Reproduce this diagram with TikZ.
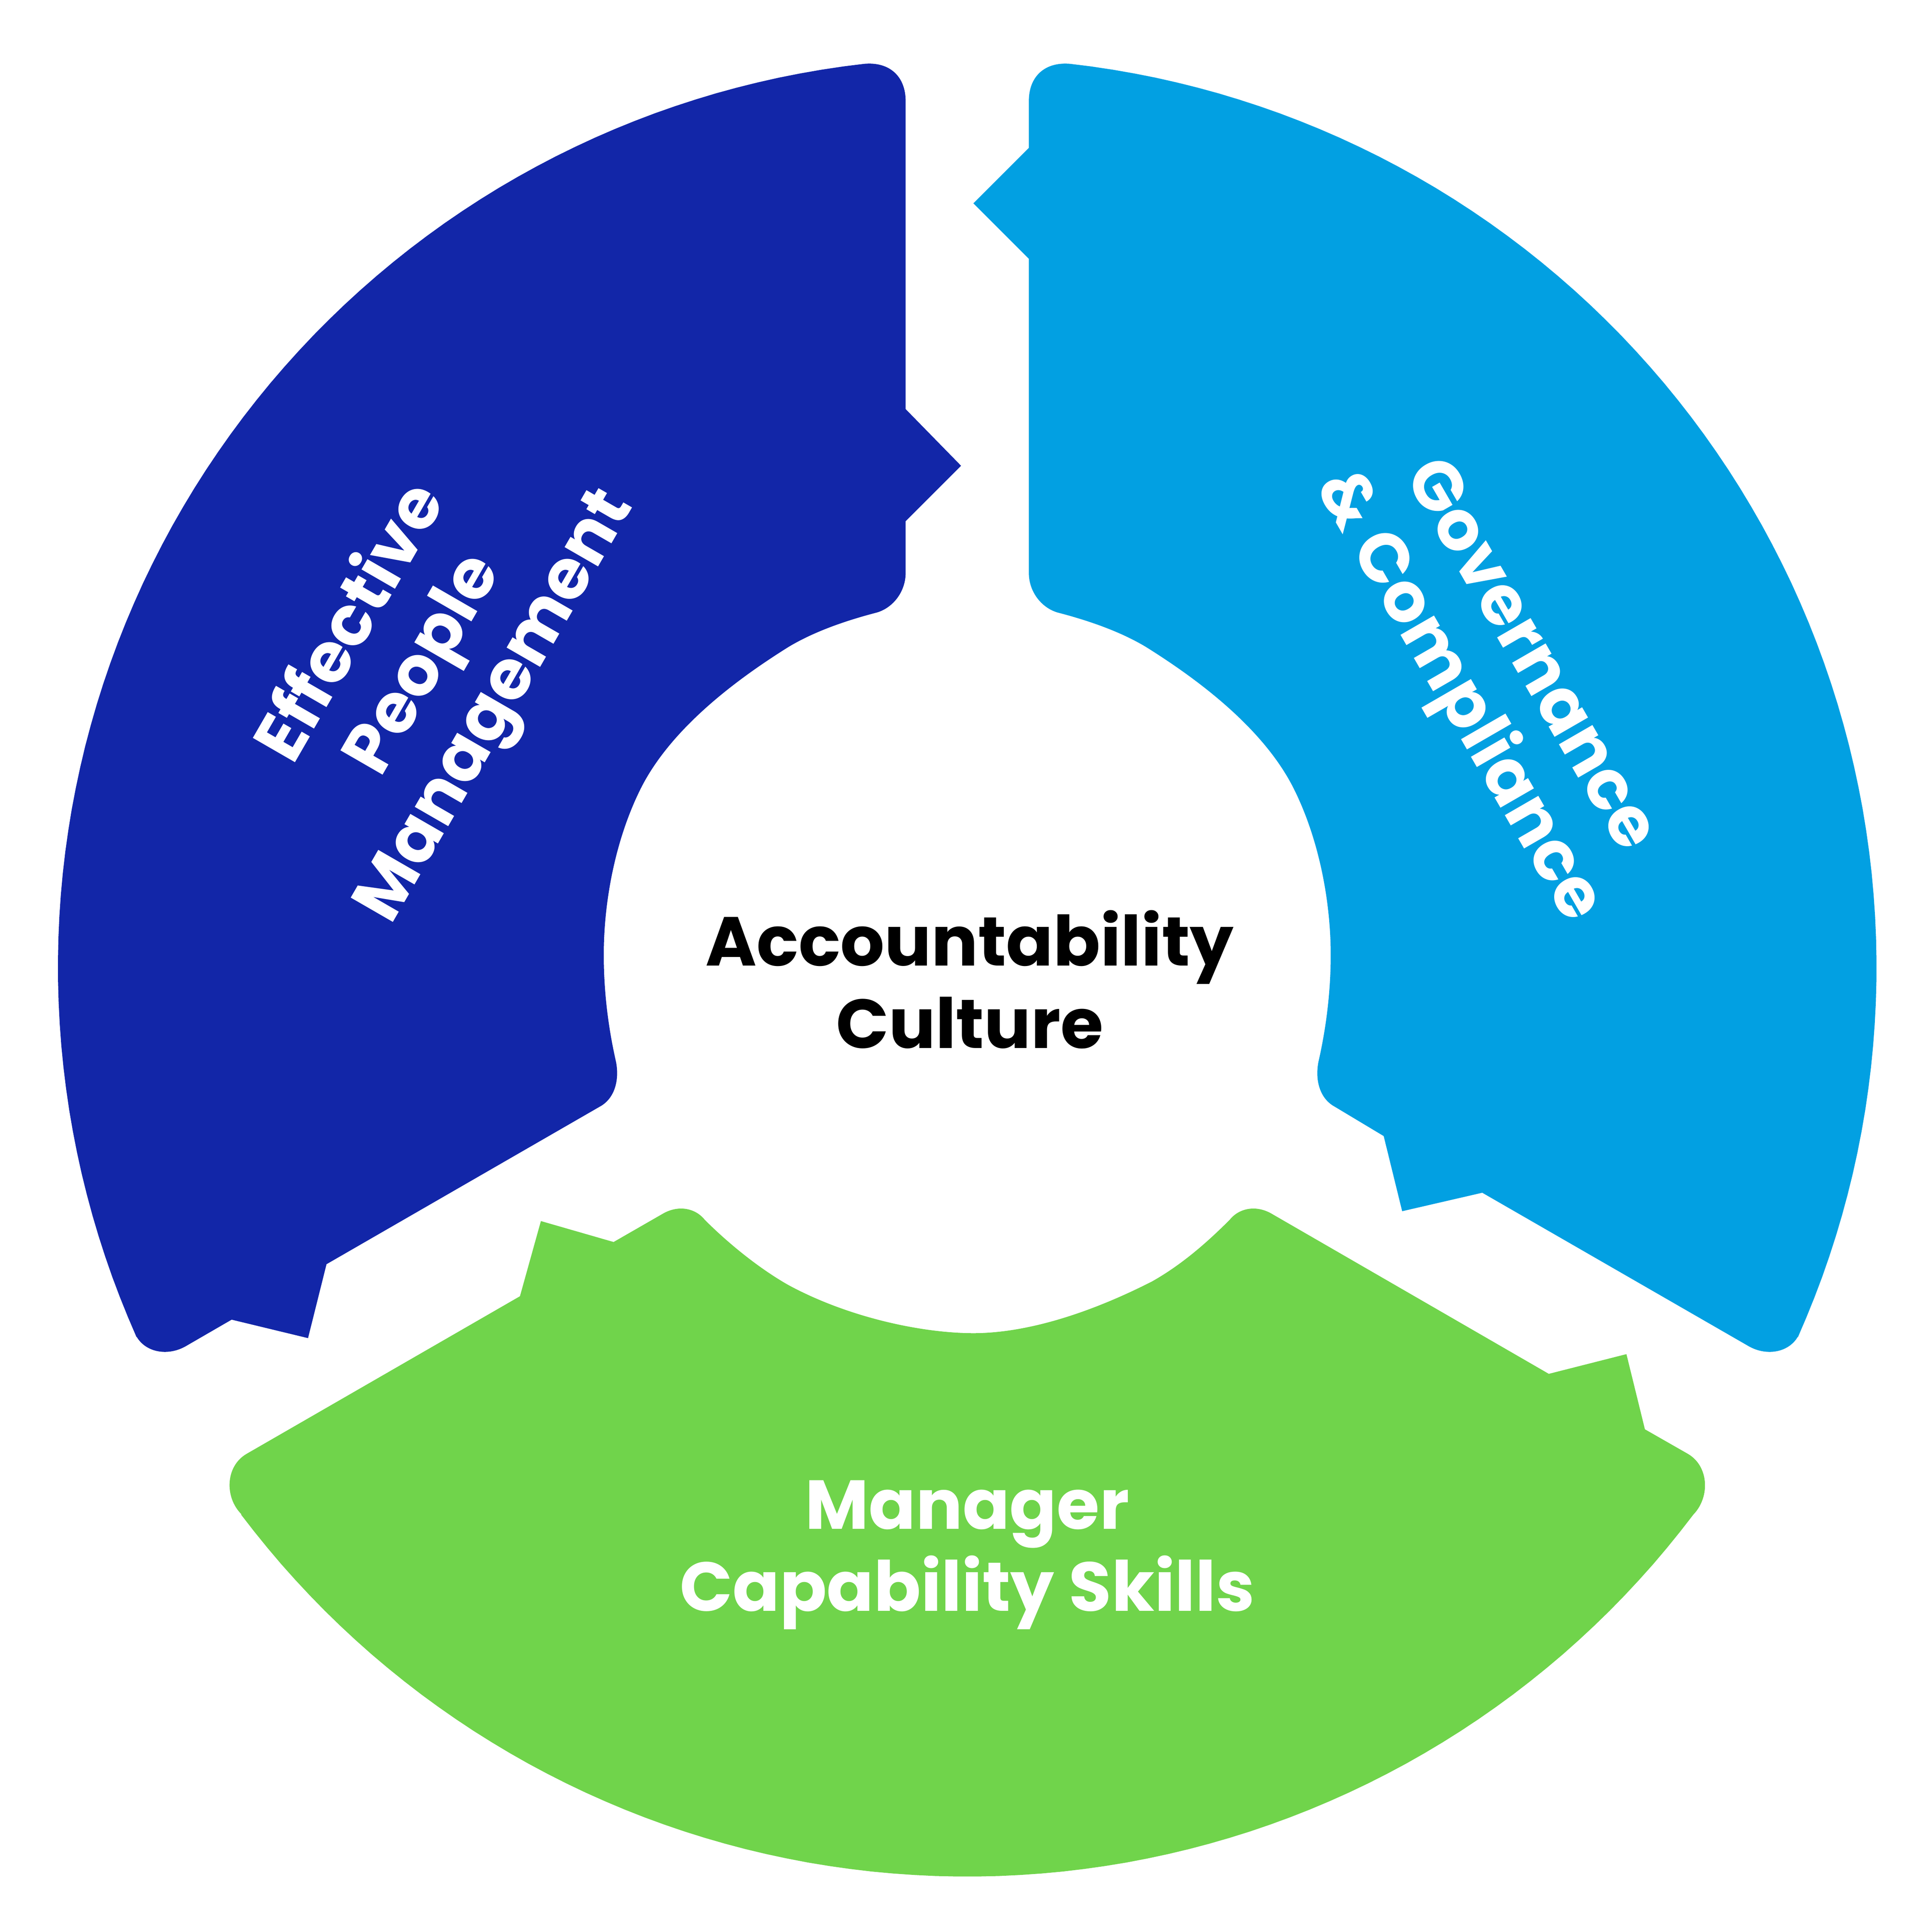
\documentclass[tikz,border=0pt]{standalone}
\usepackage{fontspec}
\setmainfont{Poppins}
\definecolor{dblue}{HTML}{1226A8}
\definecolor{lblue}{HTML}{02A0E2}
\definecolor{lgreen}{HTML}{70D44B}
\begin{document}
\begin{tikzpicture}[x=0.01cm,y=-0.01cm,
  lab/.style={align=center,font=\bfseries\fontsize{16}{19}\selectfont,text=white}]
\useasboundingbox (0,0) rectangle (1568,1568);
% dark blue
\fill[dblue] (188,1071) -- (150,1093) .. controls (135,1101) and (118,1097) .. (111,1085)
  -- plot[domain=204:96.5,samples=80] ({785+738*cos(\x)},{785-738*sin(\x)})
  .. controls (722,50) and (735,62) .. (735,82) -- (735,332) -- (780,378) -- (735,423) -- (735,465)
  .. controls (735,480) and (725,493) .. (712,497)
  .. controls (685,504) and (660,513) .. (640,525)
  .. controls (600,550) and (545,590) .. (520,640)
  .. controls (500,680) and (490,730) .. (490,775)
  .. controls (490,810) and (495,840) .. (500,862)
  .. controls (503,878) and (498,892) .. (487,898) -- (265,1026) -- (250,1086) -- cycle;
% light blue
\fill[lblue] (1203,968) -- (1420,1093) .. controls (1435,1101) and (1452,1097) .. (1459,1085)
  -- plot[domain=-24:83.5,samples=80] ({785+738*cos(\x)},{785-738*sin(\x)})
  .. controls (848,50) and (835,62) .. (835,82) -- (835,120) -- (790,165) -- (835,210) -- (835,465)
  .. controls (835,480) and (845,493) .. (858,497)
  .. controls (885,504) and (910,513) .. (930,525)
  .. controls (970,550) and (1025,590) .. (1050,640)
  .. controls (1070,680) and (1080,730) .. (1080,775)
  .. controls (1080,810) and (1075,840) .. (1070,862)
  .. controls (1067,878) and (1072,892) .. (1083,898) -- (1123,922) -- (1138,983) -- cycle;
% green
\fill[lgreen] (422,1052) -- (200,1180) .. controls (183,1190) and (182,1215) .. (196,1229)
  -- plot[domain=217:323,samples=80] ({785+738*cos(\x)},{785-738*sin(\x)})
  .. controls (1388,1215) and (1387,1190) .. (1370,1180)
  -- (1335,1160) -- (1320,1099) -- (1257,1115) -- (1032,985)
  .. controls (1020,978) and (1006,980) .. (998,990)
  .. controls (978,1010) and (958,1027) .. (935,1040)
  .. controls (880,1068) and (830,1082) .. (790,1082)
  .. controls (750,1082) and (690,1070) .. (640,1043)
  .. controls (617,1030) and (592,1010) .. (572,990)
  .. controls (564,980) and (550,978) .. (538,985)
  -- (498,1008) -- (439,991) -- cycle;
\node[align=center,font=\bfseries\fontsize{16}{19}\selectfont] (c) at (787,795) {Accountability\\Culture};
\node[lab] (m) at (785,1262) {Manager\\Capability Skills};
\node[lab,rotate=60] (e) at (345,540) {Effective\\People\\Management};
\node[lab,rotate=-60] (g) at (1210,550) {Governance\\\& Compliance};
\end{tikzpicture}
\end{document}
